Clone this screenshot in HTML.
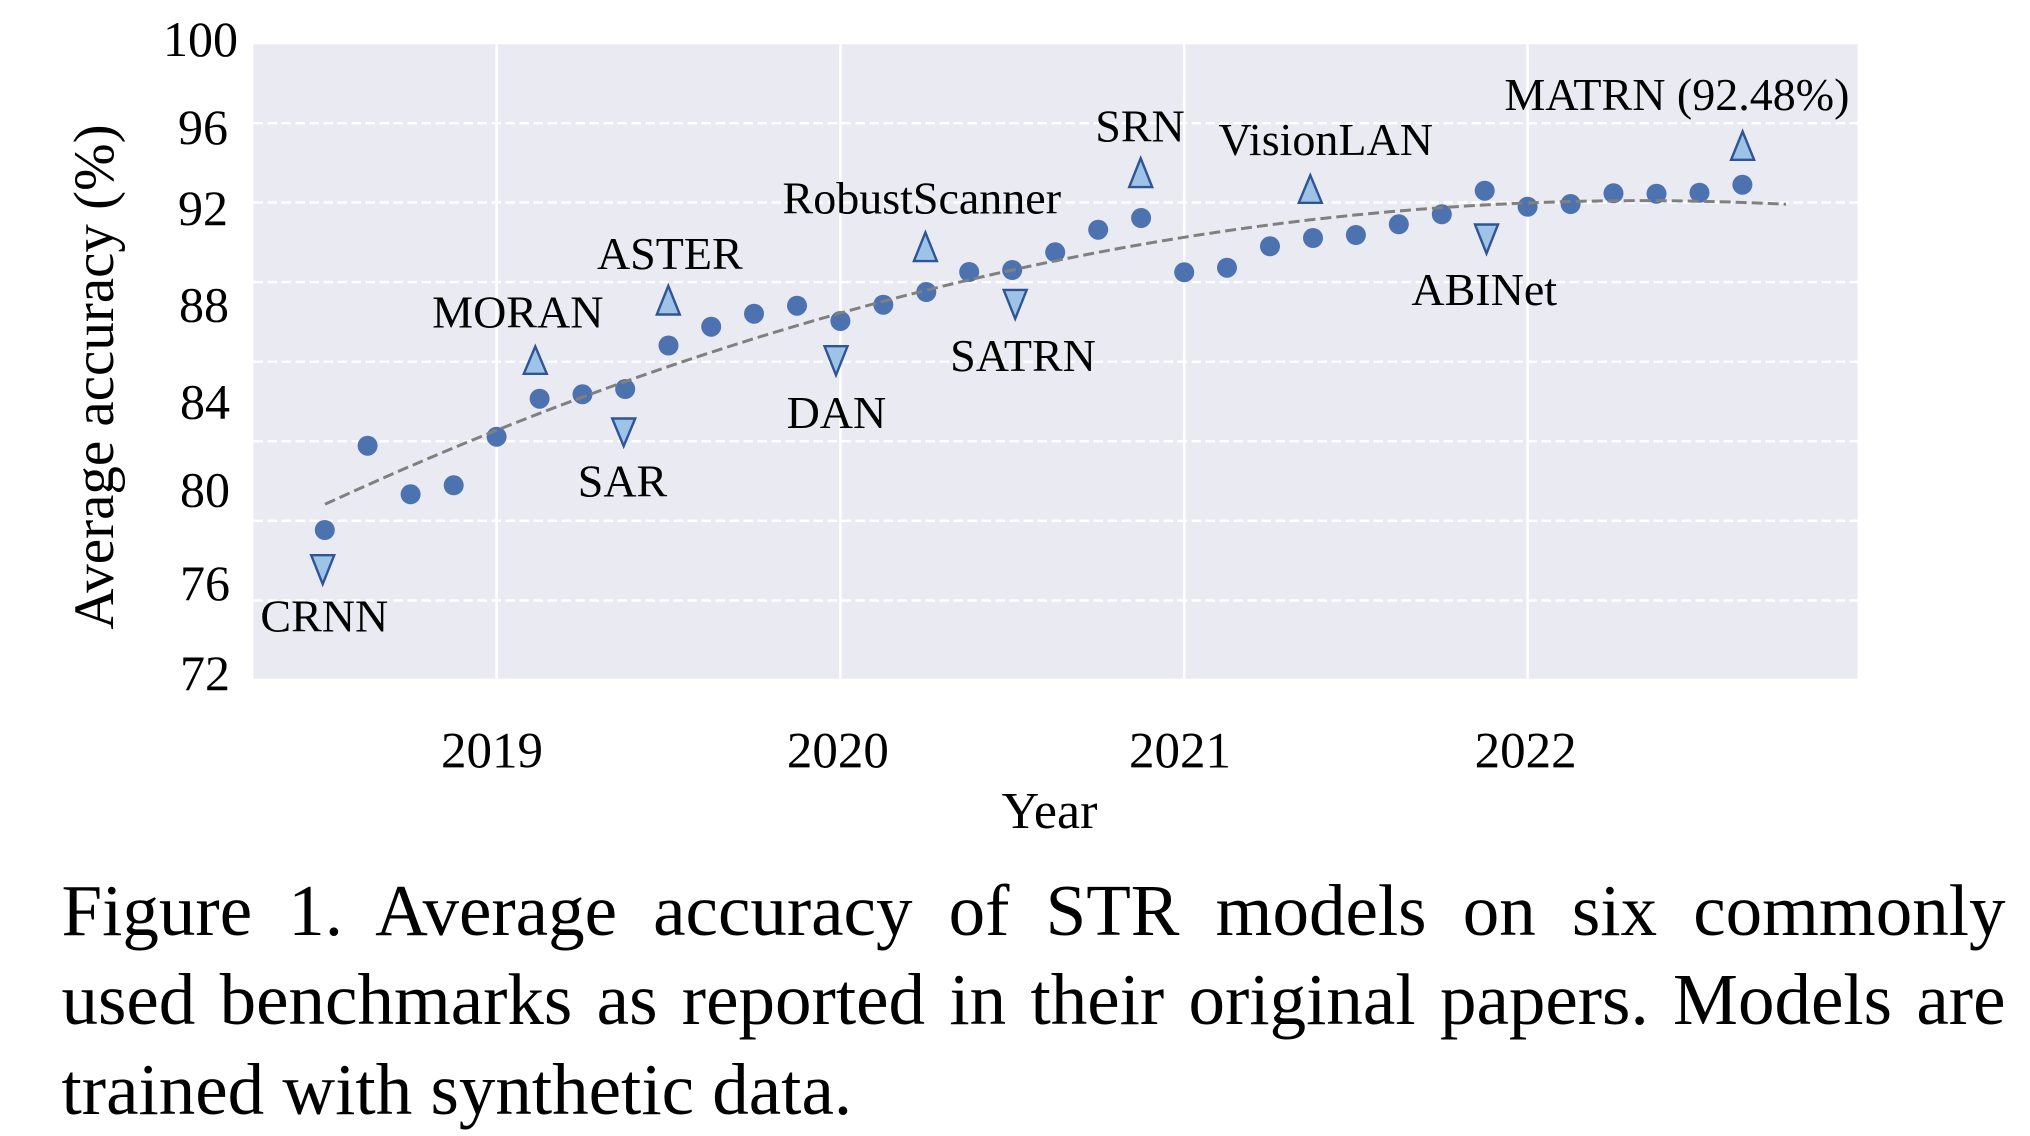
<!DOCTYPE html>
<html>
<head>
<meta charset="utf-8">
<style>
  html, body { margin:0; padding:0; background:#ffffff; }
  #wrap { position:relative; width:2030px; height:1136px; overflow:hidden; background:#fff; }
  svg { position:absolute; left:0; top:0; }
  .cap { position:absolute; left:61.5px; width:1944px; font-family:"Liberation Serif", "Times New Roman", serif; font-size:73px; line-height:73px; color:#000; white-space:nowrap; }
  .just { text-align:justify; text-align-last:justify; white-space:normal; }
</style>
</head>
<body>
<div id="wrap">
<svg width="2030" height="1136" viewBox="0 0 2030 1136" xmlns="http://www.w3.org/2000/svg">
  <!-- plot background -->
  <rect x="253.5" y="44.3" width="1604" height="634.4" fill="#EAEAF2"/>
  <!-- vertical gridlines -->
  <g stroke="#ffffff" stroke-width="2.5">
    <line x1="496.6" y1="44.3" x2="496.6" y2="678.7"/>
    <line x1="840.4" y1="44.3" x2="840.4" y2="678.7"/>
    <line x1="1184.2" y1="44.3" x2="1184.2" y2="678.7"/>
    <line x1="1527.6" y1="44.3" x2="1527.6" y2="678.7"/>
  </g>
  <!-- horizontal dashed gridlines -->
  <g stroke="#ffffff" stroke-width="2.4" stroke-dasharray="9.5 4.5">
    <line x1="253.5" y1="123.2" x2="1857.5" y2="123.2"/>
    <line x1="253.5" y1="202.5" x2="1857.5" y2="202.5"/>
    <line x1="253.5" y1="282.1" x2="1857.5" y2="282.1"/>
    <line x1="253.5" y1="361.8" x2="1857.5" y2="361.8"/>
    <line x1="253.5" y1="441.2" x2="1857.5" y2="441.2"/>
    <line x1="253.5" y1="520.8" x2="1857.5" y2="520.8"/>
    <line x1="253.5" y1="600.5" x2="1857.5" y2="600.5"/>
  </g>

  <!-- dots -->
  <g fill="#4C72B0">
    <circle cx="324.8" cy="530" r="10"/>
    <circle cx="367.6" cy="445.7" r="10"/>
    <circle cx="410.6" cy="494.3" r="10"/>
    <circle cx="453.7" cy="485.3" r="10"/>
    <circle cx="496.6" cy="436.7" r="10"/>
    <circle cx="539.6" cy="398.7" r="10"/>
    <circle cx="582.5" cy="394.3" r="10"/>
    <circle cx="625.2" cy="389" r="10"/>
    <circle cx="668.5" cy="345.5" r="10"/>
    <circle cx="711.2" cy="326.7" r="10"/>
    <circle cx="754" cy="313.7" r="10"/>
    <circle cx="797" cy="305.7" r="10"/>
    <circle cx="840.4" cy="321" r="10"/>
    <circle cx="883.3" cy="304.7" r="10"/>
    <circle cx="926.3" cy="292" r="10"/>
    <circle cx="969.2" cy="272" r="10"/>
    <circle cx="1012.2" cy="270" r="10"/>
    <circle cx="1055.2" cy="252.3" r="10"/>
    <circle cx="1098.2" cy="229.7" r="10"/>
    <circle cx="1141.1" cy="218" r="10"/>
    <circle cx="1184.2" cy="272.3" r="10"/>
    <circle cx="1227" cy="267.7" r="10"/>
    <circle cx="1270" cy="246.3" r="10"/>
    <circle cx="1313" cy="238" r="10"/>
    <circle cx="1355.9" cy="235" r="10"/>
    <circle cx="1398.8" cy="224.3" r="10"/>
    <circle cx="1441.8" cy="214.3" r="10"/>
    <circle cx="1484.7" cy="190.7" r="10"/>
    <circle cx="1527.6" cy="206.7" r="10"/>
    <circle cx="1570.6" cy="204" r="10"/>
    <circle cx="1613.5" cy="193.3" r="10"/>
    <circle cx="1656.5" cy="193.7" r="10"/>
    <circle cx="1699.5" cy="192.7" r="10"/>
    <circle cx="1742.4" cy="184.7" r="10"/>
  </g>

  <!-- trend curve -->
  <path d="M325,504.3 Q1055.5,167.3 1786,204.3" fill="none" stroke="#808080" stroke-width="3" stroke-dasharray="11 5"/>

  <!-- triangles -->
  <g fill="#9DC3E6" stroke="#2F5597" stroke-width="2.4" stroke-linejoin="miter">
    <!-- CRNN down -->
    <polygon points="311.2,555.2 334.2,555.2 322.7,584.1"/>
    <!-- MORAN up -->
    <polygon points="535.3,346.5 523.8,373.8 546.8,373.8"/>
    <!-- SAR down -->
    <polygon points="612.2,418.5 635.2,418.5 623.7,446.1"/>
    <!-- ASTER up -->
    <polygon points="668.3,285.9 656.8,314.5 679.8,314.5"/>
    <!-- DAN down -->
    <polygon points="824.5,346.2 847.5,346.2 836,375.1"/>
    <!-- RobustScanner up -->
    <polygon points="925.4,232.5 913.9,261.1 936.9,261.1"/>
    <!-- SATRN down -->
    <polygon points="1003.7,289.9 1026.7,289.9 1015.2,318.8"/>
    <!-- SRN up -->
    <polygon points="1140.7,158.2 1129.2,187.1 1152.2,187.1"/>
    <!-- VisionLAN up -->
    <polygon points="1310.3,175.2 1298.8,202.8 1321.8,202.8"/>
    <!-- ABINet down -->
    <polygon points="1475,224.5 1498,224.5 1486.5,253.5"/>
    <!-- MATRN up -->
    <polygon points="1742.6,131.5 1731.1,159.8 1754.1,159.8"/>
  </g>

  <!-- annotations -->
  <g font-family="Liberation Serif, Times New Roman, serif" font-size="46" fill="#000" text-anchor="middle">
    <text x="324.3" y="631.7">CRNN</text>
    <text x="517.8" y="327.7">MORAN</text>
    <text x="622.5" y="496.7">SAR</text>
    <text x="669.8" y="269">ASTER</text>
    <text x="836.4" y="428">DAN</text>
    <text x="921.8" y="213.3">RobustScanner</text>
    <text x="1023" y="371">SATRN</text>
    <text x="1140" y="141.7">SRN</text>
    <text x="1325.7" y="155">VisionLAN</text>
    <text x="1484.2" y="305">ABINet</text>
    <text x="1676.9" y="110">MATRN (92.48%)</text>
  </g>

  <!-- y tick labels -->
  <g font-family="Liberation Serif, Times New Roman, serif" font-size="50" fill="#000" text-anchor="end">
    <text x="238" y="56">100</text>
    <text x="228" y="144">96</text>
    <text x="228" y="225">92</text>
    <text x="229" y="321.7">88</text>
    <text x="230" y="418.3">84</text>
    <text x="230" y="506.7">80</text>
    <text x="230" y="600">76</text>
    <text x="230" y="690">72</text>
  </g>

  <!-- x tick labels -->
  <g font-family="Liberation Serif, Times New Roman, serif" font-size="51" fill="#000" text-anchor="middle">
    <text x="492" y="767.3">2019</text>
    <text x="837.9" y="767.3">2020</text>
    <text x="1180" y="767.3">2021</text>
    <text x="1525.6" y="767.3">2022</text>
  </g>

  <!-- axis labels -->
  <text x="1049.5" y="828" font-family="Liberation Serif, Times New Roman, serif" font-size="52" fill="#000" text-anchor="middle">Year</text>
  <text transform="translate(113,377) rotate(-90)" x="0" y="0" font-family="Liberation Serif, Times New Roman, serif" font-size="57" fill="#000" text-anchor="middle">Average accuracy (%)</text>
</svg>

<div class="cap just" style="top:874.2px;">Figure 1. Average accuracy of STR models on six commonly</div>
<div class="cap just" style="top:963.2px;">used benchmarks as reported in their original papers. Models are</div>
<div class="cap" style="top:1053.2px;">trained with synthetic data.</div>
</div>
</body>
</html>
